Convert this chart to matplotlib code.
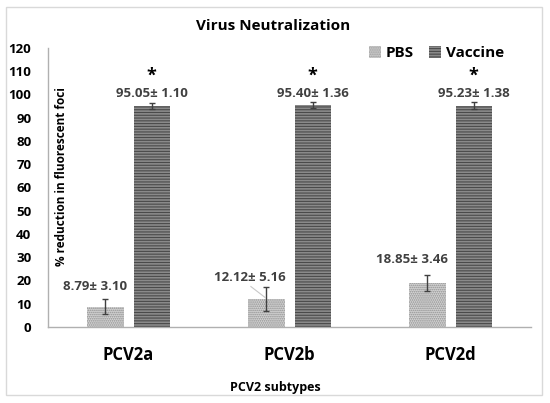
import matplotlib.pyplot as plt
import numpy as np
from matplotlib.patches import Rectangle

plt.rcParams['font.family'] = ['Open Sans', 'DejaVu Sans']
plt.rcParams['hatch.linewidth'] = 0.8

# Data
subtypes = ['PCV2a', 'PCV2b', 'PCV2d']
pbs_mean = [8.79, 12.12, 18.85]
pbs_sd = [3.10, 5.16, 3.46]
vac_mean = [95.05, 95.40, 95.23]
vac_sd = [1.10, 1.36, 1.38]

fig = plt.figure(figsize=(5.5, 4.03), dpi=100)
ax = fig.add_axes([0.0873, 0.1886, 0.8782, 0.6924])

# outer frame
fig.patches.append(Rectangle((6/550, 1-395/403), 536/550, 388/403, transform=fig.transFigure,
                             fill=False, edgecolor='#d9d9d9', linewidth=1))

x = np.arange(len(subtypes))
width = 0.224
off = 0.143

ax.bar(x - off, pbs_mean, width, color='#d4d4d4', edgecolor='#8e8e8e', linewidth=0,
       hatch='........', label='PBS')
ax.bar(x + off, vac_mean, width, color='#8a8a8a', edgecolor='#4a4a4a', linewidth=0,
       hatch='------', label='Vaccine')
ax.errorbar(x - off, pbs_mean, yerr=pbs_sd, fmt='none', ecolor='#404040', elinewidth=1, capsize=2.5)
ax.errorbar(x + off, vac_mean, yerr=vac_sd, fmt='none', ecolor='#404040', elinewidth=1, capsize=2.5)

# value labels
lab_kw = dict(ha='center', va='center', fontsize=9.5, fontweight='bold', color='#404040')
for i in range(3):
    ax.text(x[i] + off, vac_mean[i] + 5.2, f'{vac_mean[i]:.2f}\u00b1 {vac_sd[i]:.2f}', **lab_kw)
    ax.text(x[i] + off, vac_mean[i] + 12.8, '*', ha='center', va='center', fontsize=13,
            fontweight='bold', color='black')
pbs_lab_pos = [(-0.205, 17.6), (0.754, 21.5), (1.76, 29.0)]
for i in range(3):
    ax.text(pbs_lab_pos[i][0], pbs_lab_pos[i][1], f'{pbs_mean[i]:.2f}\u00b1 {pbs_sd[i]:.2f}', **lab_kw)
ax.plot([0.76, 0.85], [17.4, 12.6], color='#c8c8c8', linewidth=0.8)

ax.set_xlim(-0.5, 2.5)
ax.set_ylim(0, 120)
ax.set_yticks(np.arange(0, 121, 10))
ax.set_xticks(x)
ax.set_xticklabels(subtypes, fontsize=12, fontweight='bold')
for t in ax.get_yticklabels():
    t.set_fontweight('bold')
    t.set_fontsize(9.5)
ax.tick_params(axis='both', length=0, colors='black')
ax.tick_params(axis='y', pad=12)
ax.tick_params(axis='x', pad=14)

for s in ['top', 'right']:
    ax.spines[s].set_visible(False)
for s in ['left', 'bottom']:
    ax.spines[s].set_color('#b0b0b0')
    ax.spines[s].set_linewidth(1)

ax.text(0.014, 0.54, '% reduction in fluorescent foci', transform=ax.transAxes, rotation=90,
        ha='left', va='center', fontsize=8.5, fontweight='bold')
fig.text(0.5, 1 - 387/403, 'PCV2 subtypes', ha='center', va='center', fontsize=9, fontweight='bold')
fig.text(0.497, 1 - 26/403, 'Virus Neutralization', ha='center', va='center', fontsize=11,
         fontweight='bold')

ax.legend(loc='center right', bbox_to_anchor=(0.96, 0.982), ncol=2, frameon=False,
          prop={'weight': 'bold', 'size': 11}, handlelength=0.8, handleheight=0.8,
          handletextpad=0.3, columnspacing=1.0, borderpad=0)

fig.savefig('out.png', dpi=100)
